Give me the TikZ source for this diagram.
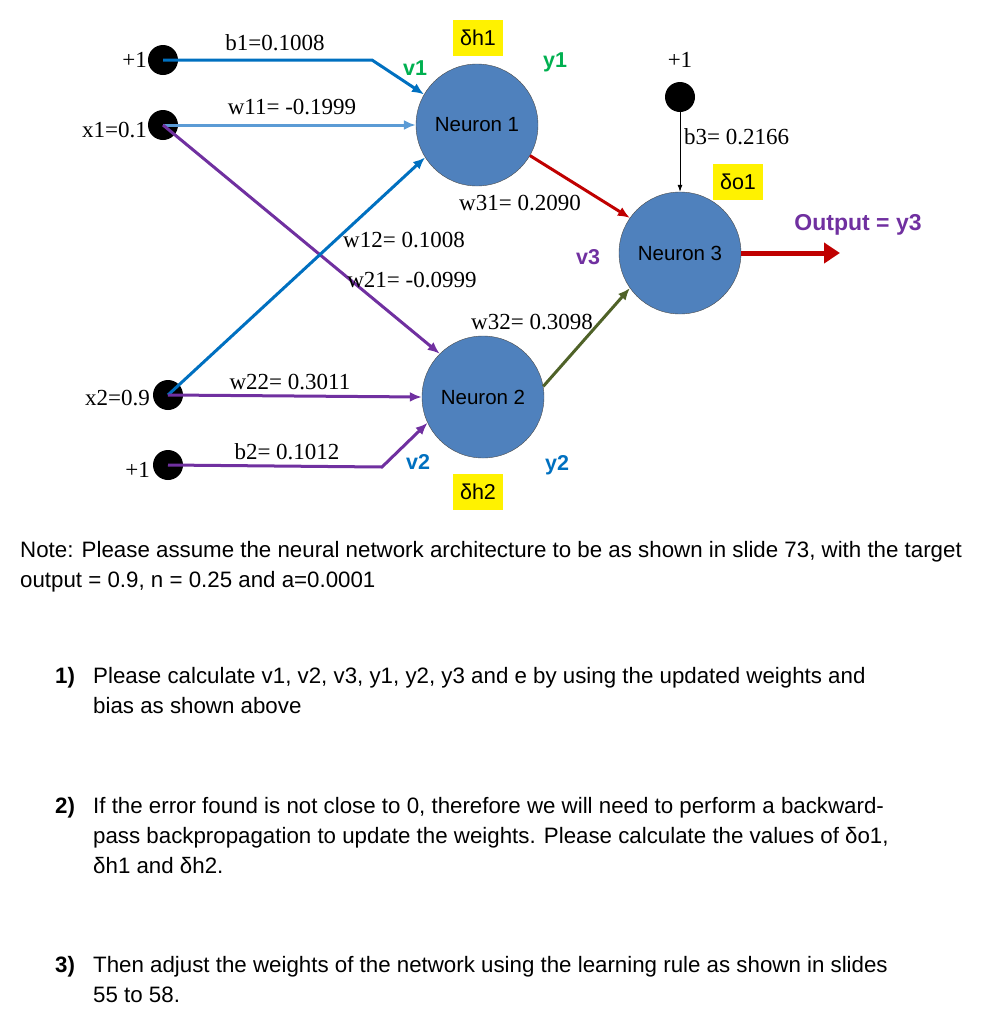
\documentclass[tikz,border=0pt]{standalone}
\usepackage{fontspec}
\setmainfont{Liberation Serif}
\newfontfamily\arial{Liberation Sans}
\usetikzlibrary{arrows.meta}
\definecolor{cblue}{HTML}{0070C0}
\definecolor{clblue}{HTML}{5B9BD5}
\definecolor{cpurp}{HTML}{7030A0}
\definecolor{cfill}{HTML}{4F81BD}
\definecolor{cred}{HTML}{C00000}
\definecolor{colive}{HTML}{4F6228}
\definecolor{cgreen}{HTML}{00B050}
\begin{document}
\begin{tikzpicture}[x=1pt,y=-1pt,
  dot/.style={circle,fill=black,minimum size=30pt,inner sep=0},
  neuron/.style={circle,draw=black!70,fill=cfill,minimum size=122pt,inner sep=0,font=\arial\fontsize{20.5}{22}\selectfont},
  wl/.style={font=\fontsize{23}{25}\selectfont,inner sep=1pt},
  conn/.style={line width=3pt,-{Latex[length=12pt,width=10pt]}},
  dbox/.style={fill=yellow,font=\arial\fontsize{21.5}{23}\selectfont,minimum width=50pt,minimum height=36pt,inner sep=2pt},
  vl/.style={font=\arial\bfseries\fontsize{21.5}{23}\selectfont},
  txt/.style={font=\arial\fontsize{22.3}{30}\selectfont,anchor=north west,align=left,inner sep=0}]
\useasboundingbox (0,0) rectangle (983,1015);
\node[dot] (p1) at (163,60) {};
\node[dot] (x1) at (163,125) {};
\node[dot] (x2) at (168,395) {};
\node[dot] (p2) at (168,465) {};
\node[dot] (p3) at (680,97) {};
\node[wl,anchor=east] at (148,60) {+1};
\node[wl,anchor=east] at (148,130) {x1=0.1};
\node[wl,anchor=east] at (151,398) {x2=0.9};
\node[wl,anchor=east] at (151,470) {+1};
\node[wl] at (680,60) {+1};
\node[neuron] (n1) at (477,125) {Neuron 1};
\node[neuron] (n2) at (483,397) {Neuron 2};
\node[neuron] (n3) at (680,253) {Neuron 3};
\coordinate (c1) at (372,60);
\coordinate (c2) at (382,467);
\draw[conn,cblue] (p1.center) -- (c1) -- (n1.150);
\draw[conn,clblue] (x1.center) -- (n1.west);
\draw[conn,cpurp] (x1.center) -- (n2.135);
\draw[conn,cblue] (x2.center) -- (n1.212);
\draw[conn,cpurp] (x2.center) -- (n2.west);
\draw[conn,cpurp] (p2.center) -- (c2) -- (n2.205);
\draw[conn,cred] (n1.-30) -- (n3.145);
\draw[conn,colive] (n2.10) -- (n3.215);
\draw[line width=0.8pt,-{Latex[length=7pt,width=5pt]}] (p3.center) -- (n3.north);
\coordinate (out) at (840,253);
\draw[line width=5pt,cred,-{Triangle[length=16pt,width=20pt]}] (n3.east) -- (out);
\node[wl] at (275,43) {b1=0.1008};
\node[wl] at (292,107) {w11= -0.1999};
\node[wl] at (404,240) {w12= 0.1008};
\node[wl] at (412,280) {w21= -0.0999};
\node[wl] at (520,203) {w31= 0.2090};
\node[wl] at (532,322) {w32= 0.3098};
\node[wl] at (290,382) {w22= 0.3011};
\node[wl] at (287,452) {b2= 0.1012};
\node[wl,anchor=west] at (683,137) {b3= 0.2166};
\node[dbox] at (478,38) {δh1};
\node[dbox] at (478,492) {δh2};
\node[dbox] at (738,182) {δo1};
\node[vl,cgreen] at (415,68) {v1};
\node[vl,cgreen] at (555,62) {y1};
\node[vl,cblue] at (418,462) {v2};
\node[vl,cblue] at (557,465) {y2};
\node[vl,cpurp] at (588,257) {v3};
\node[vl,cpurp,font=\arial\bfseries\fontsize{23}{25}\selectfont] at (858,225) {Output = y3};
\node[txt] at (20,541) {Note: Please assume the neural network architecture to be as shown in slide 73, with the target\\output = 0.9, n = 0.25 and a=0.0001};
\node[txt,font=\arial\bfseries\fontsize{22.3}{30}\selectfont] at (55,667) {1)};
\node[txt] at (93,667) {Please calculate v1, v2, v3, y1, y2, y3 and e by using the updated weights and\\bias as shown above};
\node[txt,font=\arial\bfseries\fontsize{22.3}{30}\selectfont] at (55,797) {2)};
\node[txt] at (93,797) {If the error found is not close to 0, therefore we will need to perform a backward-\\pass backpropagation to update the weights. Please calculate the values of δo1,\\δh1 and δh2.};
\node[txt,font=\arial\bfseries\fontsize{22.3}{30}\selectfont] at (55,956) {3)};
\node[txt] at (93,956) {Then adjust the weights of the network using the learning rule as shown in slides\\55 to 58.};
\end{tikzpicture}
\end{document}
